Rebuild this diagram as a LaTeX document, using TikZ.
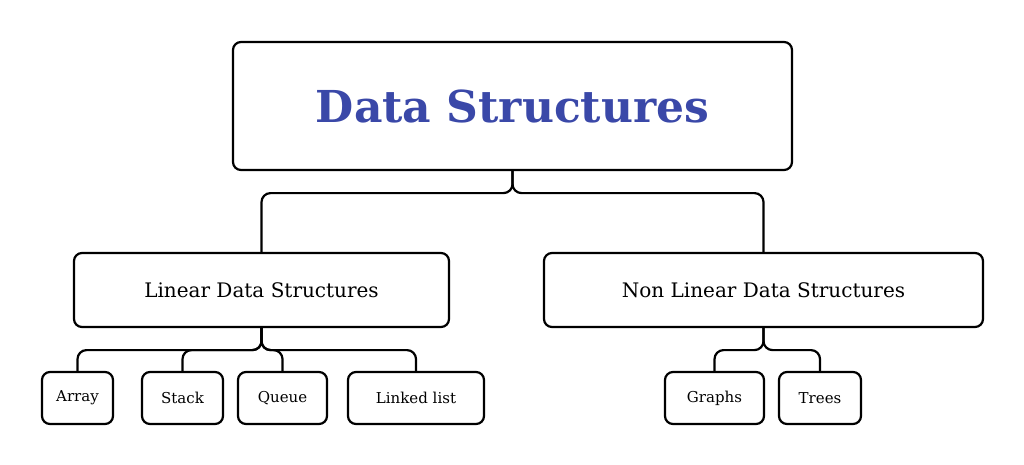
\documentclass[tikz,border=0pt]{standalone}
\usepackage{fontspec}
\setmainfont{DejaVu Serif}
\definecolor{titleblue}{HTML}{3A48A8}
\tikzstyle{block} = [rectangle, draw, line width=2.2pt, rounded corners=8pt, inner sep=0pt]
\tikzstyle{link} = [line width=2.2pt, rounded corners=9pt]
\begin{document}
\begin{tikzpicture}[x=1pt, y=-1pt]
	\useasboundingbox (0,0) rectangle (1024,464);
	\node [block, minimum width=559pt, minimum height=128pt, font=\fontsize{44}{50}\selectfont\bfseries, text=titleblue] (ds) at (512.5,106) {Data Structures};
	\node [block, minimum width=375pt, minimum height=74pt, font=\fontsize{20}{24}\selectfont] (linear) at (261.5,290) {Linear Data Structures};
	\node [block, minimum width=439pt, minimum height=74pt, font=\fontsize{20}{24}\selectfont] (nonlinear) at (763.5,290) {Non Linear Data Structures};
	\node [block, minimum width=71pt, minimum height=52pt, font=\fontsize{15}{18}\selectfont] (array) at (77.5,398) {Array};
	\node [block, minimum width=81pt, minimum height=52pt, font=\fontsize{15}{18}\selectfont] (stack) at (182.5,398) {Stack};
	\node [block, minimum width=89pt, minimum height=52pt, font=\fontsize{15}{18}\selectfont] (queue) at (282.5,398) {Queue};
	\node [block, minimum width=136pt, minimum height=52pt, font=\fontsize{15}{18}\selectfont] (linked) at (416,398) {Linked list};
	\node [block, minimum width=99pt, minimum height=52pt, font=\fontsize{15}{18}\selectfont] (graphs) at (714.5,398) {Graphs};
	\node [block, minimum width=82pt, minimum height=52pt, font=\fontsize{15}{18}\selectfont] (trees) at (820,398) {Trees};

	% top level
	\draw [link] (ds.south) -- ++(0,22) -| (linear.north);
	\draw [link] (ds.south) -- ++(0,22) -| (nonlinear.north);
	% linear children
	\draw [link] (linear.south) -- ++(0,22) -| (array.north);
	\draw [link] (linear.south) -- ++(0,22) -| (stack.north);
	\draw [link] (linear.south) -- ++(0,22) -| (queue.north);
	\draw [link] (linear.south) -- ++(0,22) -| (linked.north);
	% non linear children
	\draw [link] (nonlinear.south) -- ++(0,22) -| (graphs.north);
	\draw [link] (nonlinear.south) -- ++(0,22) -| (trees.north);
\end{tikzpicture}
\end{document}
